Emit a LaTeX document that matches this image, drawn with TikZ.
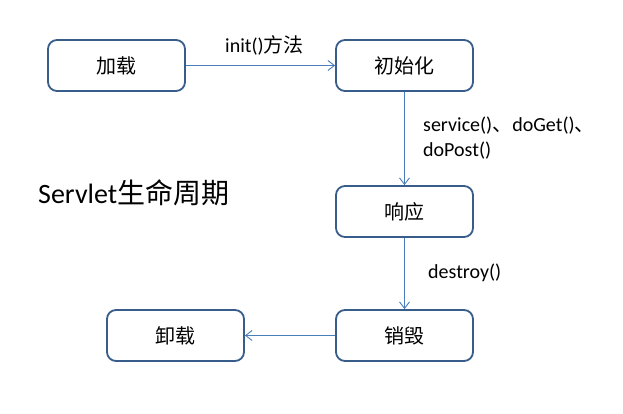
\documentclass[tikz,border=0pt]{standalone}
\usepackage{fontspec}
\setmainfont{Carlito}
\newfontfamily\cjk{Noto Sans CJK SC}
\usetikzlibrary{arrows.meta}
\definecolor{boxline}{HTML}{385D8A}
\definecolor{conn}{HTML}{4A7EBB}
\begin{document}
\begin{tikzpicture}[x=1pt,y=-1pt,
  stagebox/.style={draw=boxline,line width=1.8pt,rounded corners=9pt,fill=white,
    minimum width=137pt,minimum height=51pt,inner sep=0pt,font=\fontsize{20}{24}\selectfont\cjk},
  conn/.style={draw=conn,line width=0.9pt,-{Straight Barb[length=6.5pt,width=10pt,line width=0.9pt]}},
  lbl/.style={inner sep=0pt,font=\fontsize{20}{25}\selectfont}]
\useasboundingbox[fill=white] (0,0) rectangle (623,413);
\node[stagebox] (load) at (116.5,65.5) {加载};
\node[stagebox] (init) at (404.5,65.5) {初始化};
\node[stagebox] (resp) at (404.5,211.5) {响应};
\node[stagebox] (dest) at (404.5,335.5) {销毁};
\node[stagebox] (unld) at (175.5,335.5) {卸载};
\draw[conn] (load) -- (init);
\draw[conn] (init) -- (resp);
\draw[conn] (resp) -- (dest);
\draw[conn] (dest) -- (unld);
\node[lbl,anchor=base west] (linit) at (225,52) {init(){\cjk 方法}};
\node[lbl,anchor=north west,align=left] (lserv) at (423,117) {service(){\cjk 、}doGet(){\cjk 、}\\doPost()};
\node[lbl,anchor=base west] (ldest) at (428,278) {destroy()};
\node[inner sep=0pt,anchor=base west,font=\fontsize{28}{32}\selectfont] (title) at (38,203) {Servlet{\cjk 生命周期}};
\end{tikzpicture}
\end{document}
